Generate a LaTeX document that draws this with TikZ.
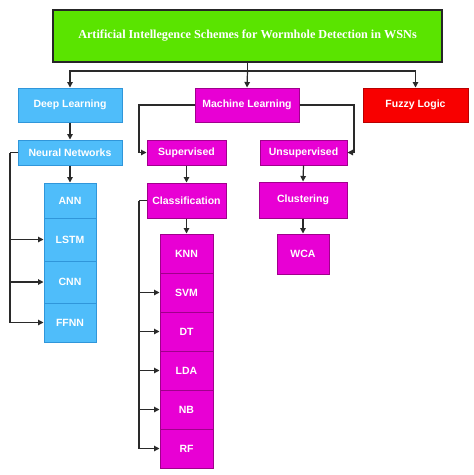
\documentclass[tikz,border=0pt]{standalone}
\usepackage{fontspec}
\setmainfont{Liberation Sans}
\newfontfamily\titlefont{Liberation Serif}
\usetikzlibrary{arrows.meta}
\definecolor{dlblue}{HTML}{4FBDFA}
\definecolor{dlborder}{HTML}{3096DA}
\definecolor{mag}{HTML}{E800D4}
\definecolor{magborder}{HTML}{A0008C}
\definecolor{fzred}{HTML}{F80000}
\definecolor{fzborder}{HTML}{B80000}
\definecolor{ttgreen}{HTML}{5AE400}
\definecolor{conn}{HTML}{2A2A2A}
\tikzset{
  box/.style={rectangle, inner sep=0pt, line width=1pt, text=white, font=\fontsize{10.5}{12}\selectfont\bfseries, anchor=center},
  bluebox/.style={box, fill=dlblue, draw=dlborder},
  magbox/.style={box, fill=mag, draw=magborder},
  redbox/.style={box, fill=fzred, draw=fzborder},
  titlebox/.style={box, fill=ttgreen, draw=black!85, line width=2pt, font=\titlefont\fontsize{12.2}{14}\selectfont\bfseries},
  conn/.style={draw=conn, line width=1.2pt, -{Triangle[length=5.5pt,width=5.5pt]}},
  plain/.style={draw=conn, line width=1.2pt},
}
\begin{document}
\begin{tikzpicture}[x=1pt,y=-1pt]
\useasboundingbox (0,0) rectangle (474,475);
% title
\node[titlebox, minimum width=389pt, minimum height=52pt] (title) at (247.5,36) {Artificial Intellegence Schemes for Wormhole Detection in WSNs};
% level 1
\node[bluebox, minimum width=104pt, minimum height=34pt] (dl) at (70,105) {Deep Learning};
\node[magbox, minimum width=104pt, minimum height=34pt] (ml) at (247,105) {Machine Learning};
\node[redbox, minimum width=105pt, minimum height=34pt] (fl) at (415.5,105) {Fuzzy Logic};
% level 2
\node[bluebox, minimum width=104pt, minimum height=25pt] (nn) at (70,152.5) {Neural Networks};
\node[magbox, minimum width=79pt, minimum height=25pt] (sup) at (186.5,152.5) {Supervised};
\node[magbox, minimum width=87pt, minimum height=25pt] (uns) at (303.5,152.5) {Unsupervised};
% level 3
\node[magbox, minimum width=79pt, minimum height=35pt] (cls) at (186.5,200.5) {Classification};
\node[magbox, minimum width=88pt, minimum height=36pt] (clu) at (303,200) {Clustering};
\node[magbox, minimum width=52pt, minimum height=40pt] (wca) at (303,254) {WCA};
% neural network stack
\node[bluebox, minimum width=52pt, minimum height=35pt] (ann) at (70,200.5) {ANN};
\node[bluebox, minimum width=52pt, minimum height=43pt] (lstm) at (70,239.5) {LSTM};
\node[bluebox, minimum width=52pt, minimum height=42pt] (cnn) at (70,282) {CNN};
\node[bluebox, minimum width=52pt, minimum height=39pt] (ffnn) at (70,322.5) {FFNN};
% classification stack
\node[magbox, minimum width=53pt, minimum height=39pt] (knn) at (186.5,253.5) {KNN};
\node[magbox, minimum width=53pt, minimum height=39pt] (svm) at (186.5,292.5) {SVM};
\node[magbox, minimum width=53pt, minimum height=39pt] (dt) at (186.5,331.5) {DT};
\node[magbox, minimum width=53pt, minimum height=39pt] (lda) at (186.5,370.5) {LDA};
\node[magbox, minimum width=53pt, minimum height=39pt] (nb) at (186.5,409.5) {NB};
\node[magbox, minimum width=53pt, minimum height=39pt] (rf) at (186.5,448.5) {RF};
% connectors from title
\coordinate (j) at (247.5,71);
\draw[plain] (title.south) -- (j);
\draw[conn] (j) -| (dl.north);
\draw[conn] (j) -- (ml.north);
\draw[conn] (j) -| (fl.north);
% deep learning
\draw[conn] (dl.south) -- (nn.north);
\draw[conn] (nn.south) -- (ann.north);
\coordinate (nj) at (10,152.5);
\draw[plain] (nn.west) -- (nj);
\draw[conn] (nj) |- (lstm.west);
\draw[conn] (nj) |- (cnn.west);
\draw[conn] (nj) |- (ffnn.west);
% machine learning
\coordinate (ml1) at (139,105);
\coordinate (ml2) at (354,105);
\draw[conn] (ml.west) -- (ml1) |- (sup.west);
\draw[conn] (ml.east) -- (ml2) |- (uns.east);
\draw[conn] (sup.south) -- (cls.north);
\draw[conn] (uns.south) -- (clu.north);
\draw[conn] (clu.south) -- (wca.north);
\draw[conn] (cls.south) -- (knn.north);
\coordinate (cj) at (139,200.5);
\draw[plain] (cls.west) -- (cj);
\draw[conn] (cj) |- (svm.west);
\draw[conn] (cj) |- (dt.west);
\draw[conn] (cj) |- (lda.west);
\draw[conn] (cj) |- (nb.west);
\draw[conn] (cj) |- (rf.west);
\end{tikzpicture}
\end{document}
